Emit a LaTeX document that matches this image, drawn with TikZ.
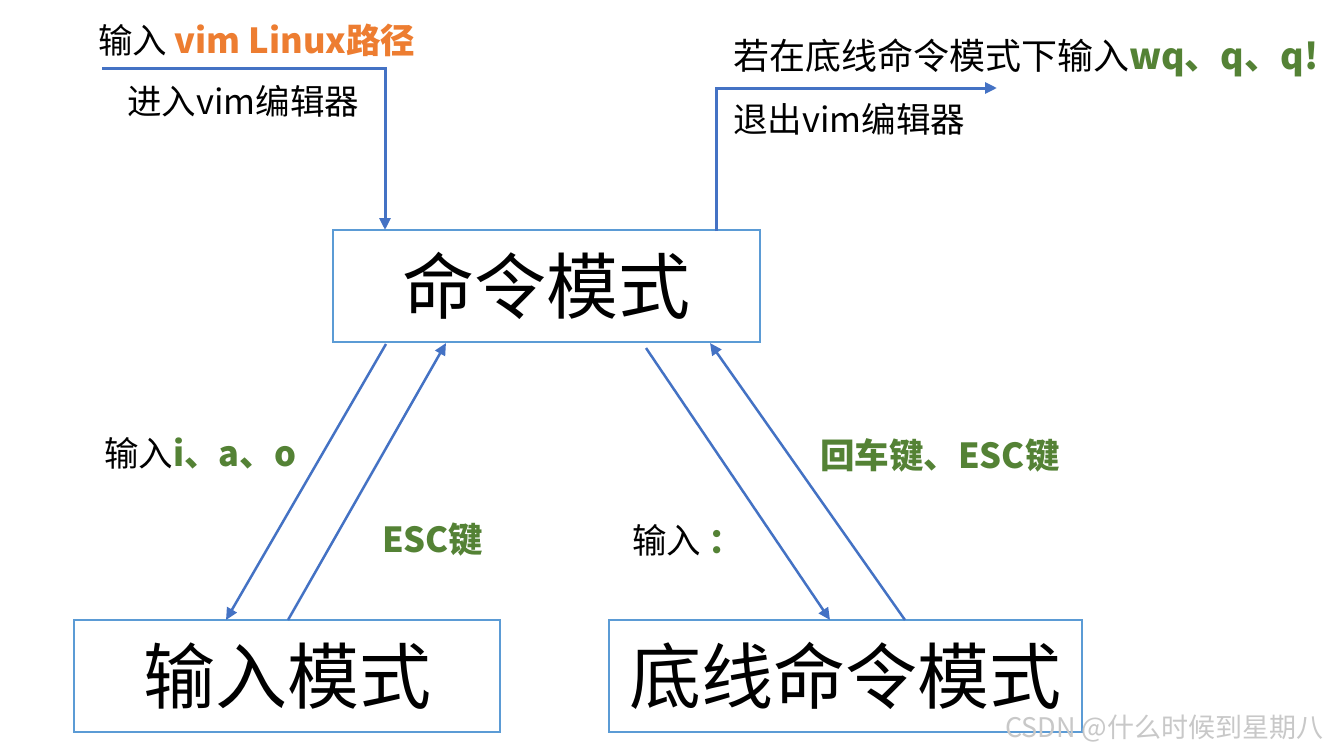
\documentclass[tikz,border=0pt]{standalone}
\usepackage{fontspec}
\setmainfont{Noto Sans CJK SC}
\usetikzlibrary{arrows.meta}
\definecolor{boxblue}{HTML}{5B9BD5}
\definecolor{arrblue}{HTML}{4472C4}
\definecolor{kgreen}{HTML}{548235}
\definecolor{korange}{HTML}{ED7D31}
\definecolor{wmgray}{HTML}{C8C8C8}
\begin{document}
\begin{tikzpicture}[x=1pt,y=-1pt,
  modebox/.style={draw=boxblue, line width=2pt, minimum width=#1, minimum height=112pt, inner sep=0pt, font=\fontsize{72}{80}\selectfont},
  lbl/.style={inner sep=0pt, anchor=base west, font=\fontsize{34.5}{40}\selectfont},
  arr/.style={draw=arrblue, line width=2.5pt, -{Triangle[length=12pt,width=11pt]}},
  grn/.style={text=kgreen}]
\fill[white] (0,0) rectangle (1325,750);
\useasboundingbox (0,0) rectangle (1325,750);

% mode boxes
\node[modebox=427pt] (cmd) at (546.5,286) {命令模式};
\node[modebox=426pt] (ins) at (287,676) {输入模式};
\node[modebox=473pt] (bot) at (845.5,676) {底线命令模式};

% top-left entry
\coordinate (tl) at (102,68);
\coordinate (c1) at (385,230);
\draw[arr, line width=3pt] (tl) -| (c1);
\node[lbl] (t1) at (98,53) {输入 \textcolor{korange}{\bfseries vim Linux路径}};
\node[lbl] (t2) at (127,114) {进入vim编辑器};

% top-right exit
\coordinate (c2) at (716,231);
\coordinate (tr) at (997,88);
\draw[arr, line width=3pt] (c2) |- (tr);
\node[lbl, font=\fontsize{36}{40}\selectfont] (t3) at (733,69) {若在底线命令模式下输入\textcolor{kgreen}{\bfseries wq、q、q!}};
\node[lbl] (t4) at (733,132) {退出vim编辑器};

% diagonal arrows
\coordinate (d1s) at (386,344);
\coordinate (d1e) at (226,620);
\coordinate (d2s) at (288,620);
\coordinate (d2e) at (446,343);
\coordinate (d3s) at (646,348);
\coordinate (d3e) at (830,620);
\coordinate (d4s) at (905,620);
\coordinate (d4e) at (710,343);
\draw[arr] (d1s) -- (d1e);
\draw[arr] (d2s) -- (d2e);
\draw[arr] (d3s) -- (d3e);
\draw[arr] (d4s) -- (d4e);

\node[lbl] (l1) at (104,466) {输入\textcolor{kgreen}{\bfseries i、a、o}};
\node[lbl, grn] (l2) at (382,552) {\bfseries ESC键};
\node[lbl] (l3) at (632,553) {输入 \textcolor{kgreen}{\bfseries ：}};
\node[lbl, grn] (l4) at (820,468) {\bfseries 回车键、ESC键};

% watermark
\node[inner sep=0pt, anchor=base west, text=wmgray, font=\fontsize{27}{30}\selectfont] (wm) at (1005,737) {CSDN @什么时候到星期八};
\end{tikzpicture}
\end{document}
